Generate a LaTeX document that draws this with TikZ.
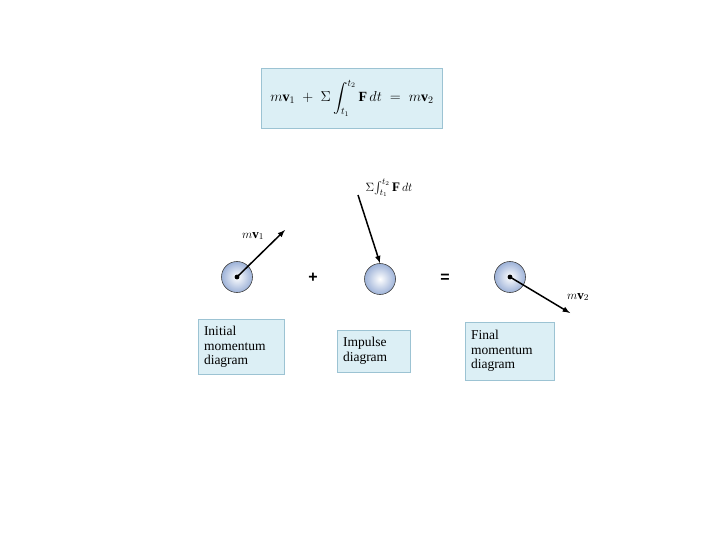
\documentclass[tikz,border=0pt]{standalone}
\usepackage{fontspec}
\setmainfont{Liberation Serif}
\newfontfamily\sansf{Liberation Sans}
\usepackage{amsmath}
\definecolor{pfill}{HTML}{DCEFF5}
\definecolor{pline}{HTML}{9CC3D3}
\definecolor{ballout}{HTML}{9DB2D8}
\begin{document}
\begin{tikzpicture}[x=1pt,y=-1pt,
  panel/.style={draw=pline,fill=pfill,line width=0.8pt,inner sep=5pt},
  ball/.style={circle,draw=black!75,line width=0.6pt,inner color=white,outer color=ballout,minimum size=31pt,inner sep=0pt},
  vec/.style={-latex,line width=1.5pt},
  lab/.style={font=\fontsize{13.5}{14.5}\selectfont,align=left,text width=#1,inner sep=6pt},
  op/.style={font=\sansf\bfseries\fontsize{16}{16}\selectfont}]
\useasboundingbox (0,0) rectangle (720,540);
\node[panel,minimum width=181pt,minimum height=60pt,font=\fontsize{14}{16}\selectfont] (eq) at (352,98)
  {$m\mathbf{v}_1\;+\;\Sigma\displaystyle\int_{t_1}^{t_2}\mathbf{F}\,dt\;=\;m\mathbf{v}_2$};
\node[ball] (b1) at (237,277) {};
\node[ball] (b2) at (380,279) {};
\node[ball] (b3) at (510,277) {};
\fill (b1.center) circle (2.4);
\fill (b3.center) circle (2.4);
\coordinate (a1) at (285,230);
\coordinate (s2) at (358,195);
\coordinate (a3) at (570,313);
\draw[vec] (b1.center) -- (a1);
\draw[vec] (s2) -- (b2.north);
\draw[vec] (b3.center) -- (a3);
\node[font=\fontsize{13}{14}\selectfont] (l1) at (253,236) {$m\mathbf{v}_1$};
\node[font=\fontsize{13}{14}\selectfont] (l2) at (389,188) {$\Sigma\!\int_{t_1}^{t_2}\mathbf{F}\,dt$};
\node[font=\fontsize{13}{14}\selectfont] (l3) at (578,297) {$m\mathbf{v}_2$};
\node[op] (plus) at (313,278) {+};
\node[op] (eqs) at (445,278) {=};
\node[panel,lab=74pt,minimum height=55pt] (p1) at (241,347) {Initial\\momentum\\diagram};
\node[panel,lab=61pt,minimum height=42pt] (p2) at (373.5,351) {Impulse\\diagram};
\node[panel,lab=77pt,minimum height=58pt] (p3) at (509.5,351) {Final\\momentum\\diagram};
\end{tikzpicture}
\end{document}
